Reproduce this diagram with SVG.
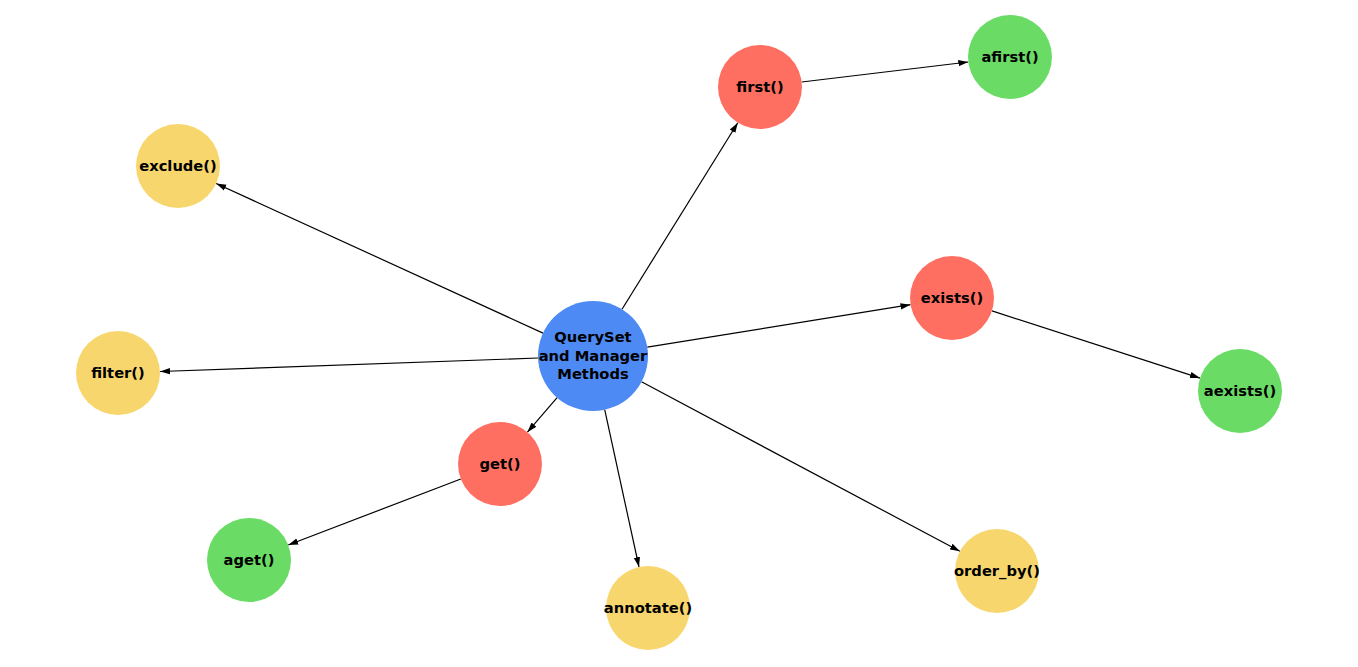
<svg xmlns="http://www.w3.org/2000/svg" width="1358" height="667" viewBox="0 0 1358 667">
<style>
.n text{font-family:"DejaVu Sans",sans-serif;font-weight:bold;font-size:14.7px;fill:#000;text-anchor:middle;dominant-baseline:central}
.red{fill:#FF6F61}
.green{fill:#6ADC66}
.yellow{fill:#F8D66E}
.blue{fill:#4E8AF4}
#edges line{stroke:#000;stroke-width:1.2;marker-end:url(#ah)}
</style>
<defs>
<marker id="ah" markerUnits="userSpaceOnUse" markerWidth="10" markerHeight="8" viewBox="0 0 10 8" refX="10" refY="4" orient="auto">
<path d="M0,0.8 L10,4 L0,7.2 Z" fill="#000"/>
</marker>
</defs>
<rect width="1358" height="667" fill="#fff"/>
<g id="edges">
<line x1="622.0" y1="309.3" x2="737.8" y2="122.7"/>
<line x1="801.7" y1="82.0" x2="968.3" y2="62.0"/>
<line x1="543.0" y1="333.1" x2="216.2" y2="183.5"/>
<line x1="647.3" y1="347.2" x2="910.5" y2="304.7"/>
<line x1="992.0" y1="310.9" x2="1200.0" y2="378.1"/>
<line x1="538.0" y1="358.0" x2="160.0" y2="371.5"/>
<line x1="557.1" y1="397.7" x2="527.4" y2="432.2"/>
<line x1="460.8" y1="479.0" x2="288.2" y2="545.0"/>
<line x1="604.7" y1="409.7" x2="639.0" y2="567.0"/>
<line x1="641.5" y1="381.8" x2="959.9" y2="551.3"/>
</g>
<g id="center" class="n"><circle class="blue" cx="593" cy="356" r="55"/><text x="593" y="336">QuerySet</text><text x="593" y="355">and Manager</text><text x="593" y="373.5">Methods</text></g>
<g id="first" class="n"><circle class="red" cx="760" cy="87" r="42"/><text x="760" y="86">first()</text></g>
<g id="afirst" class="n"><circle class="green" cx="1010" cy="57" r="42"/><text x="1010" y="56">afirst()</text></g>
<g id="exclude" class="n"><circle class="yellow" cx="178" cy="166" r="42"/><text x="178" y="165">exclude()</text></g>
<g id="exists" class="n"><circle class="red" cx="952" cy="298" r="42"/><text x="952" y="297">exists()</text></g>
<g id="aexists" class="n"><circle class="green" cx="1240" cy="391" r="42"/><text x="1240" y="390">aexists()</text></g>
<g id="filter" class="n"><circle class="yellow" cx="118" cy="373" r="42"/><text x="118" y="372">filter()</text></g>
<g id="get" class="n"><circle class="red" cx="500" cy="464" r="42"/><text x="500" y="463">get()</text></g>
<g id="aget" class="n"><circle class="green" cx="249" cy="560" r="42"/><text x="249" y="559">aget()</text></g>
<g id="annotate" class="n"><circle class="yellow" cx="648" cy="608" r="42"/><text x="648" y="607">annotate()</text></g>
<g id="order_by" class="n"><circle class="yellow" cx="997" cy="571" r="42"/><text x="997" y="570">order_by()</text></g>
</svg>
